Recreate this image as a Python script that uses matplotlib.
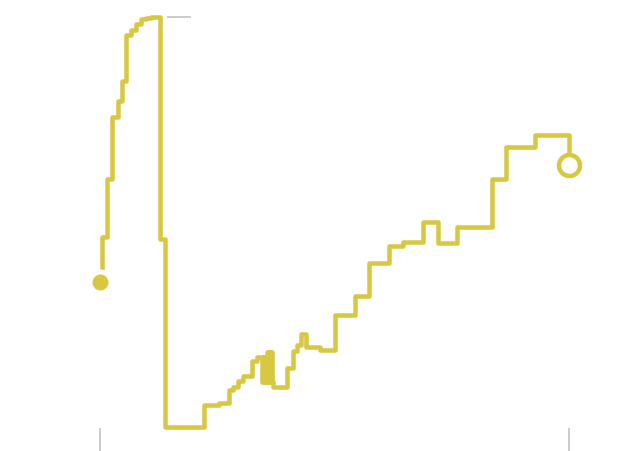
import matplotlib
matplotlib.use("Agg")
import matplotlib.pyplot as plt

# step series: x = time index, y = value (held until next x)
x_vals = [0, 2, 7, 12, 18, 22, 26, 31, 36, 41, 46, 51, 60, 65, 104, 119, 129,
          133, 138, 143, 152, 157,
          162, 163, 164, 165, 166, 167, 168, 169, 170, 171, 172,
          173, 187, 193, 197, 201, 206, 220, 235, 255, 269, 289, 303, 323, 338,
          357, 392, 406, 435, 469]
y_vals = [169, 214, 272, 334, 350, 370, 416, 421, 427, 432, 433.5, 434.5, 212, 24, 46, 48, 61,
          64, 70, 75, 90, 94,
          69, 94, 69, 94, 69, 99, 69, 99, 69, 99, 69,
          64, 83, 100, 106, 117, 104, 101, 136, 155, 188, 205, 209, 229, 208,
          224, 272, 304, 316, 286]

LINE = "#d8c741"
GRAY = "#cccccc"
px = 0.72  # points per pixel at dpi 100

fig = plt.figure(figsize=(6.29, 4.52), dpi=100)
ax = fig.add_axes([0, 0, 1, 1])
ax.set_xlim(-100, 529)
ax.set_ylim(0, 452)
ax.axis("off")

ax.step(x_vals, y_vals, where="post", color=LINE, lw=4.5 * px,
        solid_joinstyle="round", solid_capstyle="round", zorder=2)

# start marker with white halo
ax.plot([x_vals[0]], [y_vals[0]], "o", ms=26 * px, color="white", mew=0, zorder=3)
ax.plot([x_vals[0]], [y_vals[0]], "o", ms=16 * px, color=LINE, mew=0, zorder=4)
# end marker (open)
ax.plot([x_vals[-1]], [y_vals[-1]], "o", ms=21 * px, mfc="white", mec=LINE,
        mew=4.5 * px, zorder=4)

# max reference mark
ax.plot([68, 90], [434, 434], color=GRAY, lw=2 * px, zorder=1)
# bottom ticks at start/end
for xv in (x_vals[0], x_vals[-1]):
    ax.plot([xv, xv], [0, 22], color=GRAY, lw=2 * px, zorder=1)

fig.savefig("out.png", dpi=100)
